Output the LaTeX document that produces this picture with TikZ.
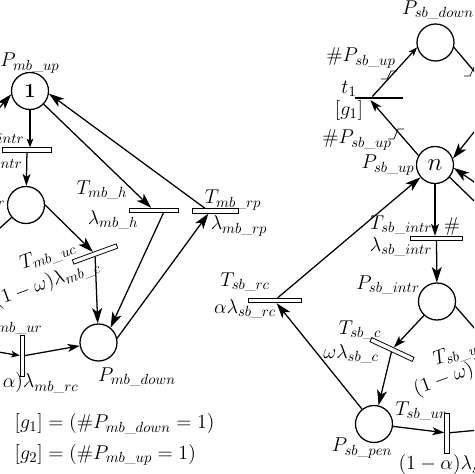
\RequirePackage{fix-cm}
\documentclass[tikz,border=0pt]{standalone}
\usepackage{amsmath}
\usetikzlibrary{arrows.meta}
\DeclareMathSizes{15}{15}{11}{8}

\begin{document}
\begin{tikzpicture}[x=0.75pt,y=0.75pt,yscale=-1,xscale=1,
  font=\fontsize{15}{18}\selectfont, line width=0.95pt,
  place/.style={circle, draw, minimum size=27.75pt, inner sep=0pt},
  trans/.style={draw, fill=white, rectangle, minimum width=36.75pt, minimum height=3.4pt, inner sep=0pt, line width=0.6pt},
  imm/.style={fill=black, rectangle, minimum width=36pt, minimum height=1.7pt, inner sep=0pt},
  arcbig/.style={-{Stealth[length=11.5pt,width=7.5pt,inset=3pt]}},
  arcmid/.style={-{Stealth[length=9pt,width=6pt,inset=2.3pt]}},
  arcsmall/.style={-{Stealth[length=6.5pt,width=5pt,inset=1.6pt]}}]
\useasboundingbox (0,0) rectangle (474,474);
\clip (0,0) rectangle (474,474);

%Shape: Places of the mb net
\node [place] (Pmbup) at (30,91) {$\mathbf{1}$};
\node [place] (Pmbintr) at (26,205) {};
\node [place] (Pmbdown) at (98.5,342.5) {};
%Shape: Transitions of the mb net
\node [trans] (Tmbintr) at (27,150) {};
\node [trans] (Tmbh) at (154,210.5) {};
\node [trans, minimum width=34.5pt] (Tmbrp) at (215,211) {};
\node [trans, minimum width=35pt, rotate=20] (Tmbuc) at (95,254) {};
\node [trans, minimum width=30.75pt, rotate=90] (Tmbur) at (22.5,356) {};

%Shape: Places of the sb net
\node [place] (Psbdown) at (435.5,42.5) {};
\node [place] (Psbup) at (435,165) {\fontsize{19}{22}\selectfont$n$};
\node [place] (Psbintr) at (437,301.5) {};
\node [place] (Psbpen) at (374,424) {};
%Shape: Transitions of the sb net
\node [imm] (t1) at (379,98.3) {};
\node [trans, minimum width=39pt] (Tsbintr) at (436.5,238.5) {};
\node [trans, minimum width=35pt, rotate=-25] (Tsbc) at (392,349.5) {};
\node [trans, minimum width=39.75pt] (Tsbrc) at (274.5,300.5) {};
\node [trans, minimum width=30pt, rotate=90] (Tsbur) at (447,433) {};

%Shape: Free ends outside the frame
\coordinate (offL1) at (-20,130);
\coordinate (offL2) at (-20,246);
\coordinate (offL3) at (-20,349);
\coordinate (offR1) at (490,90);
\coordinate (offR2) at (490,112);
\coordinate (offR3) at (490,193);
\coordinate (offR4) at (500,226);
\coordinate (offR5) at (490,346);
\coordinate (offR6) at (490,429);

%Shape: Arcs of the mb net
\draw [arcbig] (offL1) -- (Pmbup.190);
\draw [arcsmall] (Pmbup) -- (Pmbup |- Tmbintr.north);
\draw [arcmid] (Tmbintr) -- (Pmbintr);
\draw [arcbig] (Pmbintr.east) -- (Tmbuc);
\draw (Pmbintr.221) -- (offL2);
\draw [arcsmall] (offL3) -- (Tmbur);
\draw [arcmid] (Tmbur) -- (Pmbdown);
\draw [arcbig] (Tmbuc) -- (Pmbdown);
\draw [arcbig] (Pmbup) -- (Tmbh);
\draw [arcbig] ([xshift=7pt]Tmbh.south) -- (Pmbdown.51);
\draw [arcbig] (Pmbdown.13) -- ([xshift=-5pt]Tmbrp.south);
\draw [arcbig] ([xshift=-7.5pt]Tmbrp.north) -- (Pmbup.-8);

%Shape: Arcs of the sb net
\draw [arcsmall] ([xshift=-5pt]t1.north) -- (Psbdown.195);
\draw [arcmid] (Psbup.150) -- ([xshift=-6.5pt]t1.south);
\draw (Psbdown.-15) -- (offR1);
\draw [arcbig] (offR2) -- (Psbup.20);
\draw [arcbig] (offR3) -- (Psbup.-9);
\draw (Psbup.-40) -- (offR4);
\draw [arcmid] (Psbup) -- (Psbup |- Tsbintr.north);
\draw [arcbig] (Tsbintr) -- (Psbintr);
\draw [arcmid] (Psbintr) -- (Tsbc);
\draw (Psbintr.-15) -- (offR5);
\draw [arcbig] (Tsbc) -- (Psbpen);
\draw [arcbig] (Psbpen) -- (Tsbrc);
\draw [arcbig] (Tsbrc) -- (Psbup);
\draw [arcmid] (Psbpen) -- (Tsbur);
\draw (Tsbur) -- (offR6);

%Shape: Z marks on the marking dependent arcs
\draw [line width=0.5pt] (381,79) -- (387,79) -- (391,71) -- (397,71);
\draw [line width=0.5pt] (388,139) -- (394,139) -- (398,129) -- (404,129);
\draw [line width=0.5pt] (464,76) -- (470,76) -- (474,67) -- (480,67);

% Text Node
\draw (30,63) node [inner sep=0.75pt] (lPmbup) {$P_{mb\_up}$};
% Text Node
\draw (26,136) node [anchor=east][inner sep=0.75pt] (lTmbintr) {$T_{mb\_intr}$};
% Text Node
\draw (24,161) node [anchor=east][inner sep=0.75pt] (lLmbintr) {$\lambda_{mb\_intr}$};
% Text Node
\draw (7,200) node [anchor=east][inner sep=0.75pt] (lPmbintr) {$P_{mb\_intr}$};
% Text Node
\draw (102,190) node [inner sep=0.75pt] (lTmbh) {$T_{mb\_h}$};
% Text Node
\draw (113,220) node [inner sep=0.75pt] (lLmbh) {$\lambda_{mb\_h}$};
% Text Node
\draw (233,200) node [inner sep=0.75pt] (lTmbrp) {$T_{mb\_rp}$};
% Text Node
\draw (239,226) node [inner sep=0.75pt] (lLmbrp) {$\lambda_{mb\_rp}$};
% Text Node
\draw (48,256) node [rotate=20][inner sep=0.75pt] (lTmbuc) {$T_{mb\_uc}$};
% Text Node
\draw (47,283) node [rotate=20][inner sep=0.75pt] (lLmbuc) {$(1-\omega)\lambda_{mb\_c}$};
% Text Node
\draw (44,325) node [anchor=east][inner sep=0.75pt] (lTmbur) {$T_{mb\_ur}$};
% Text Node
\draw (80,383) node [anchor=east][inner sep=0.75pt] (lLmbur) {$(1-\alpha)\lambda_{mb\_rc}$};
% Text Node
\draw (137,377) node [inner sep=0.75pt] (lPmbdown) {$P_{mb\_down}$};
% Text Node
\draw (13,424) node [anchor=west][inner sep=0.75pt] (lgone) {$[g_1]=(\#P_{mb\_down}=1)$};
% Text Node
\draw (13,455) node [anchor=west][inner sep=0.75pt] (lgtwo) {$[g_2]=(\#P_{mb\_up}=1)$};

% Text Node
\draw (438,10) node [inner sep=0.75pt] (lPsbdown) {$P_{sb\_down}$};
% Text Node
\draw (361,58) node [inner sep=0.75pt] (lMupa) {$\#P_{sb\_up}$};
% Text Node
\draw (349,89) node [inner sep=0.75pt] (ltone) {$t_1$};
% Text Node
\draw (349,111) node [inner sep=0.75pt] (lgoneb) {$[g_1]$};
% Text Node
\draw (357,140) node [inner sep=0.75pt] (lMupb) {$\#P_{sb\_up}$};
% Text Node
\draw (388,165) node [inner sep=0.75pt] (lPsbup) {$P_{sb\_up}$};
% Text Node
\draw (401,225) node [inner sep=0.75pt] (lTsbintr) {$T_{sb\_intr}$};
% Text Node
\draw (452,226) node [inner sep=0.75pt] (lSharp) {$\#$};
% Text Node
\draw (401,247) node [inner sep=0.75pt] (lLsbintr) {$\lambda_{sb\_intr}$};
% Text Node
\draw (388,285) node [inner sep=0.75pt] (lPsbintr) {$P_{sb\_intr}$};
% Text Node
\draw (360,330) node [inner sep=0.75pt] (lTsbc) {$T_{sb\_c}$};
% Text Node
\draw (351,354) node [inner sep=0.75pt] (lLsbc) {$\omega\lambda_{sb\_c}$};
% Text Node
\draw (362,448) node [inner sep=0.75pt] (lPsbpen) {$P_{sb\_pen}$};
% Text Node
\draw (245,282) node [inner sep=0.75pt] (lTsbrc) {$T_{sb\_rc}$};
% Text Node
\draw (245,309) node [inner sep=0.75pt] (lLsbrc) {$\alpha\lambda_{sb\_rc}$};
% Text Node
\draw (421,411) node [inner sep=0.75pt] (lTsbur) {$T_{sb\_ur}$};
% Text Node
\draw (397,465) node [anchor=west][inner sep=0.75pt] (lLsbur) {$(1-\alpha)\lambda_{sb\_rc}$};
% Text Node
\draw (433,362) node [anchor=west][rotate=20][inner sep=0.75pt] (lTsbuc) {$T_{sb\_uc}$};
% Text Node
\draw (413,391) node [anchor=west][rotate=20][inner sep=0.75pt] (lLsbuc) {$(1-\omega)\lambda_{sb\_c}$};

\end{tikzpicture}
\end{document}
